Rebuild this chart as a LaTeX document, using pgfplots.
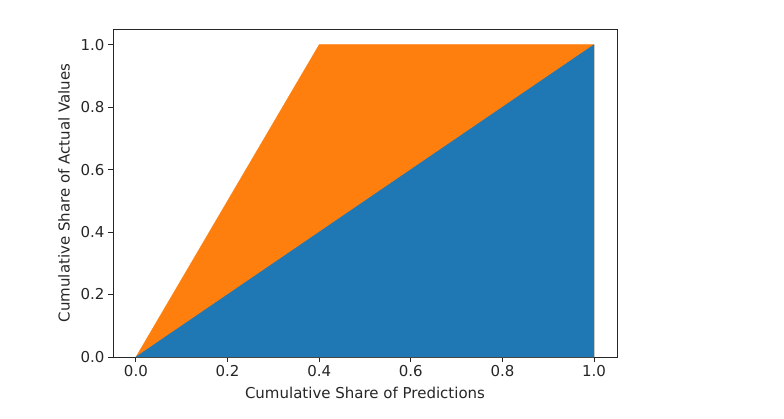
\documentclass[border=0pt]{standalone}
\usepackage{pgfplots}
\pgfplotsset{compat=1.18}
\usepackage{fontspec}
\setmainfont{DejaVu Sans}
\definecolor{mplblue}{HTML}{1F77B4}
\definecolor{mplorange}{HTML}{FF7F0E}
\definecolor{mpltext}{HTML}{262626}
\begin{document}
\begin{tikzpicture}
  % page size: 784 x 418 px, axis box offset inside it
  \useasboundingbox (-113pt,-61pt) rectangle (671pt,357pt);
  \begin{axis}[
      scale only axis,
      width=504pt, height=328pt,
      xmin=-0.05, xmax=1.05,
      ymin=0, ymax=1.05,
      xtick={0,0.2,...,1.0},
      ytick={0,0.2,...,1.0},
      tick align=outside,
      tick pos=left,
      major tick length=5pt,
      tick style={black!85, line width=0.9pt},
      axis line style={black!85, line width=0.9pt},
      font=\fontsize{15}{18}\selectfont,
      tick label style={color=mpltext},
      /pgf/number format/assume math mode=true,
      /pgf/number format/.cd, fixed, fixed zerofill, precision=1,
      /pgfplots/.cd,
      xlabel={Cumulative Share of Predictions},
      ylabel={Cumulative Share of Actual Values},
      label style={color=mpltext},
      xlabel style={yshift=-3pt},
      ylabel style={yshift=4pt},
    ]
    \addplot[draw=mplorange, fill=mplorange, line width=0.3pt]
      coordinates {(0,0) (0.4,1) (1,1) (1,0)} -- cycle;
    \addplot[draw=mplblue, fill=mplblue, line width=0.3pt]
      coordinates {(0,0) (1,1) (1,0)} -- cycle;
  \end{axis}
\end{tikzpicture}
\end{document}
